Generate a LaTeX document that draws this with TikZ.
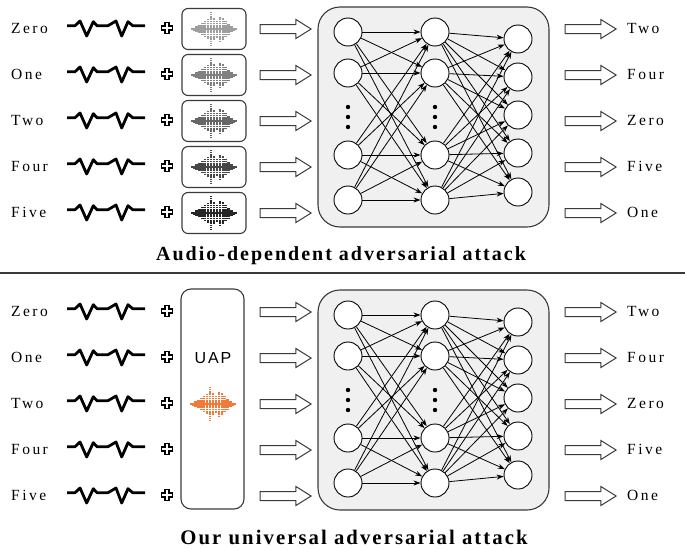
\documentclass[tikz,border=0pt]{standalone}
\usepackage{fontspec}
\setmainfont{Liberation Serif}
\newfontfamily\lblfont{Liberation Serif}[LetterSpace=16]
\newfontfamily\capfont{Liberation Serif}[LetterSpace=10]
\newfontfamily\uapfont{Liberation Sans}[LetterSpace=12]
\usepackage{tikz}
\usetikzlibrary{shapes.arrows, arrows.meta, positioning}

\definecolor{netfill}{HTML}{F0F0F0}
\definecolor{edgegray}{HTML}{3A3A3A}
\definecolor{uaporange}{HTML}{F07A3A}

\tikzstyle{word} = [inner sep=0pt, font=\fontsize{15.5}{18}\lblfont]
\tikzstyle{neuron} = [circle, draw, fill=white, minimum size=28pt, inner sep=0pt, line width=0.9pt]
\tikzstyle{link} = [line width=0.8pt,-{Stealth[length=7pt,width=5pt]}]
\tikzstyle{fatarrow} = [single arrow, draw=edgegray, line width=1pt, minimum height=51pt, inner xsep=0pt, inner ysep=4pt, single arrow head extend=5pt, single arrow tip angle=64, text width=0pt]
\tikzstyle{pertbox} = [rectangle, draw=edgegray, line width=1.1pt, rounded corners=6pt, minimum width=64pt, minimum height=41pt]
\tikzstyle{netbox} = [rectangle, draw=edgegray, fill=netfill, line width=1.1pt, rounded corners=22pt, minimum width=231pt, minimum height=220pt]
\tikzstyle{caption} = [inner sep=0pt, font=\fontsize{20}{22}\capfont\bfseries]

\tikzset{
  pics/wave/.style={code={
    \draw[line width=2.8pt, line join=round] (0,0) -- (8,0) -- (13,-4.7) -- (19.7,10.3) -- (26.3,-4) -- (30,0) -- (41,0) -- (49,-4.7) -- (54.7,10.3) -- (61,-4) -- (65.7,0) -- (78,0);
  }},
  pics/plus/.style={code={
    \draw[line width=1.2pt, fill=white] (-2,-5.5) -- (2,-5.5) -- (2,-2) -- (5.5,-2) -- (5.5,2) -- (2,2) -- (2,5.5) -- (-2,5.5) -- (-2,2) -- (-5.5,2) -- (-5.5,-2) -- (-2,-2) -- cycle;
  }},
  pics/audio/.style={code={
    \foreach \h [count=\c] in {1.5,3,4.5,6,8,10,17,11,9,12,11,8,5,3,1.5} {
      \draw[line width=2.3pt, dash pattern=on 1.6pt off 0.7pt] ({(\c-8)*2.9},0) -- ({(\c-8)*2.9},\h);
      \draw[line width=2.3pt, dash pattern=on 1.6pt off 0.7pt] ({(\c-8)*2.9},0) -- ({(\c-8)*2.9},-\h);
    }
    \draw[line width=1.2pt] (-23,0) -- (23,0);
  }}
}

\begin{document}
\begin{tikzpicture}[x=1pt, y=-1pt]
\useasboundingbox (0,0) rectangle (685,549);

\foreach \p/\dy in {a/0, b/283} {
  % Inputs: label, waveform, plus, arrow
  \foreach \lbl [count=\r] in {Zero,One,Two,Four,Five} {
    \node[word, anchor=west] (\p-in\r) at (11,{28+46*(\r-1)+\dy}) {\lbl};
    \pic at (67,{25.7+46*(\r-1)+\dy}) {wave};
    \pic at (167,{28+46*(\r-1)+\dy}) {plus};
    \node[fatarrow] (\p-arr\r) at (282,{29+46*(\r-1)+\dy}) {};
  }

  % Network
  \node[netbox] (\p-net) at (433.5,{117+\dy}) {};
  \foreach \y [count=\i] in {32,73,155,200} {
    \node[neuron] (\p-h1-\i) at (348,{\y+\dy}) {};
    \node[neuron] (\p-h2-\i) at (435,{\y+\dy}) {};
  }
  \foreach \y [count=\i] in {39,77,115,153,192}
    \node[neuron] (\p-h3-\i) at (518,{\y+\dy}) {};
  \foreach \x in {348,435}
    \foreach \y in {107,117,127}
      \fill (\x,{\y+\dy}) circle (2.2pt);

  % Links between layers
  \foreach \i in {1,...,4} {
    \foreach \j in {1,...,4}
      \draw[link] (\p-h1-\i) -- (\p-h2-\j);
    \foreach \j in {1,...,5}
      \draw[link] (\p-h2-\i) -- (\p-h3-\j);
  }

  % Outputs
  \foreach \lbl [count=\r] in {Two,Four,Zero,Five,One} {
    \node[fatarrow] (\p-outarr\r) at (587,{29+46*(\r-1)+\dy}) {};
    \node[word, anchor=west] (\p-out\r) at (627,{28+46*(\r-1)+\dy}) {\lbl};
  }
}

% Audio-dependent perturbations
\foreach \g [count=\r] in {38,50,60,72,85} {
  \node[pertbox] (pert\r) at (214,{29+46*(\r-1)}) {};
  \pic[color=black!\g!white] at (214,{29+46*(\r-1)}) {audio};
}
\node[caption] (capa) at (341,256) {Audio-dependent adversarial attack};

% Separator
\coordinate (sepl) at (0,273);
\coordinate (sepr) at (685,273);
\draw[line width=2pt, edgegray] (sepl) -- (sepr);

% Universal perturbation
\node[pertbox, minimum height=220pt, minimum width=63pt, rounded corners=10pt] (uap) at (212.5,399) {};
\node[font=\fontsize{16}{18}\uapfont] (uaptext) at (213,358) {UAP};
\pic[color=uaporange] at (213,404) {audio};

\node[caption, font=\fontsize{20.7}{22}\capfont\bfseries] (capb) at (354,537) {Our universal adversarial attack};

\end{tikzpicture}
\end{document}
